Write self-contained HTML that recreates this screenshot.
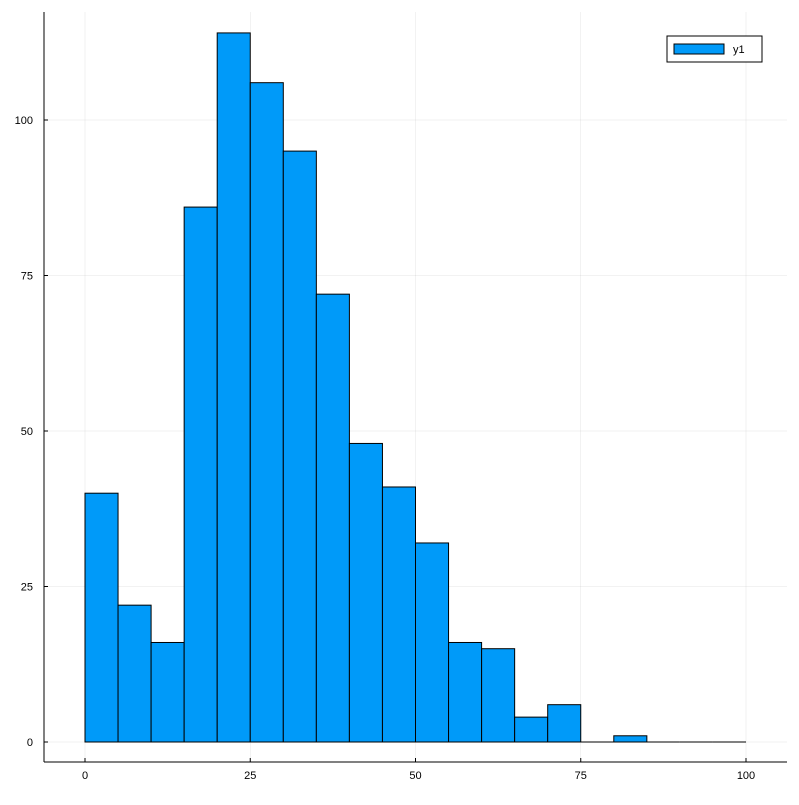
<!DOCTYPE html>
<html><head><meta charset="utf-8"><style>
body{margin:0;background:#fff;}
svg text{font-family:"Liberation Sans",sans-serif;font-size:11px;fill:#000;}
</style></head><body>
<svg id="chart" width="799" height="800" xmlns="http://www.w3.org/2000/svg">
<g id="grid"></g>
<g id="bars"></g>
<g id="axes"></g>
<g>
<rect x="667" y="36" width="95" height="26" fill="#fff" stroke="#000" stroke-width="1"/>
<rect x="674" y="44" width="50" height="10" fill="#009af9" stroke="#000" stroke-width="1"/>
<text x="733" y="53">y1</text>
</g>
</svg>
<script>
const binEdges=[0,5,10,15,20,25,30,35,40,45,50,55,60,65,70,75,80,85,90,95,100];
const counts=[40,22,16,86,114,106,95,72,48,41,32,16,15,4,6,0,1,0,0,0];
const xTicks=[0,25,50,75,100];
const yTicks=[0,25,50,75,100];
const NS="http://www.w3.org/2000/svg";
function X(v){return 85+v*6.61;}
function Y(v){return 742-v*6.22;}
function mk(tag,attrs,parent){const e=document.createElementNS(NS,tag);for(const k in attrs)e.setAttribute(k,attrs[k]);parent.appendChild(e);return e;}
const grid=document.getElementById('grid'),bars=document.getElementById('bars'),axes=document.getElementById('axes');
xTicks.forEach(t=>{const l=mk('line',{x1:X(t),x2:X(t),y1:12,y2:762,stroke:'#000','stroke-opacity':0.1,'stroke-width':0.5},grid);


const tx=mk('text',{x:X(t),y:779,'text-anchor':'middle'},axes);tx.textContent=t;


mk('line',{x1:X(t),x2:X(t),y1:762,y2:758,stroke:'#000'},axes);});
yTicks.forEach(t=>{const l=mk('line',{x1:44,x2:787,y1:Y(t),y2:Y(t),stroke:'#000','stroke-opacity':0.1,'stroke-width':0.5},grid);


const tx=mk('text',{x:33,y:Y(t)+4,'text-anchor':'end'},axes);tx.textContent=t;


mk('line',{x1:44,x2:48,y1:Y(t),y2:Y(t),stroke:'#000'},axes);});
counts.forEach((c,i)=>{const x0=X(binEdges[i]),x1=X(binEdges[i+1]);
if(c===0){const z=mk('line',{x1:x0,x2:x1,y1:Y(0),y2:Y(0),stroke:'#000','stroke-width':1},bars);

return;}
const r=mk('rect',{x:x0,y:Y(c),width:x1-x0,height:Y(0)-Y(c),fill:'#009af9',stroke:'#000','stroke-width':1},bars);

});
mk('line',{x1:44,x2:44,y1:12,y2:762,stroke:'#000'},axes);
mk('line',{x1:44,x2:787,y1:762,y2:762,stroke:'#000'},axes);
</script>
</body></html>
